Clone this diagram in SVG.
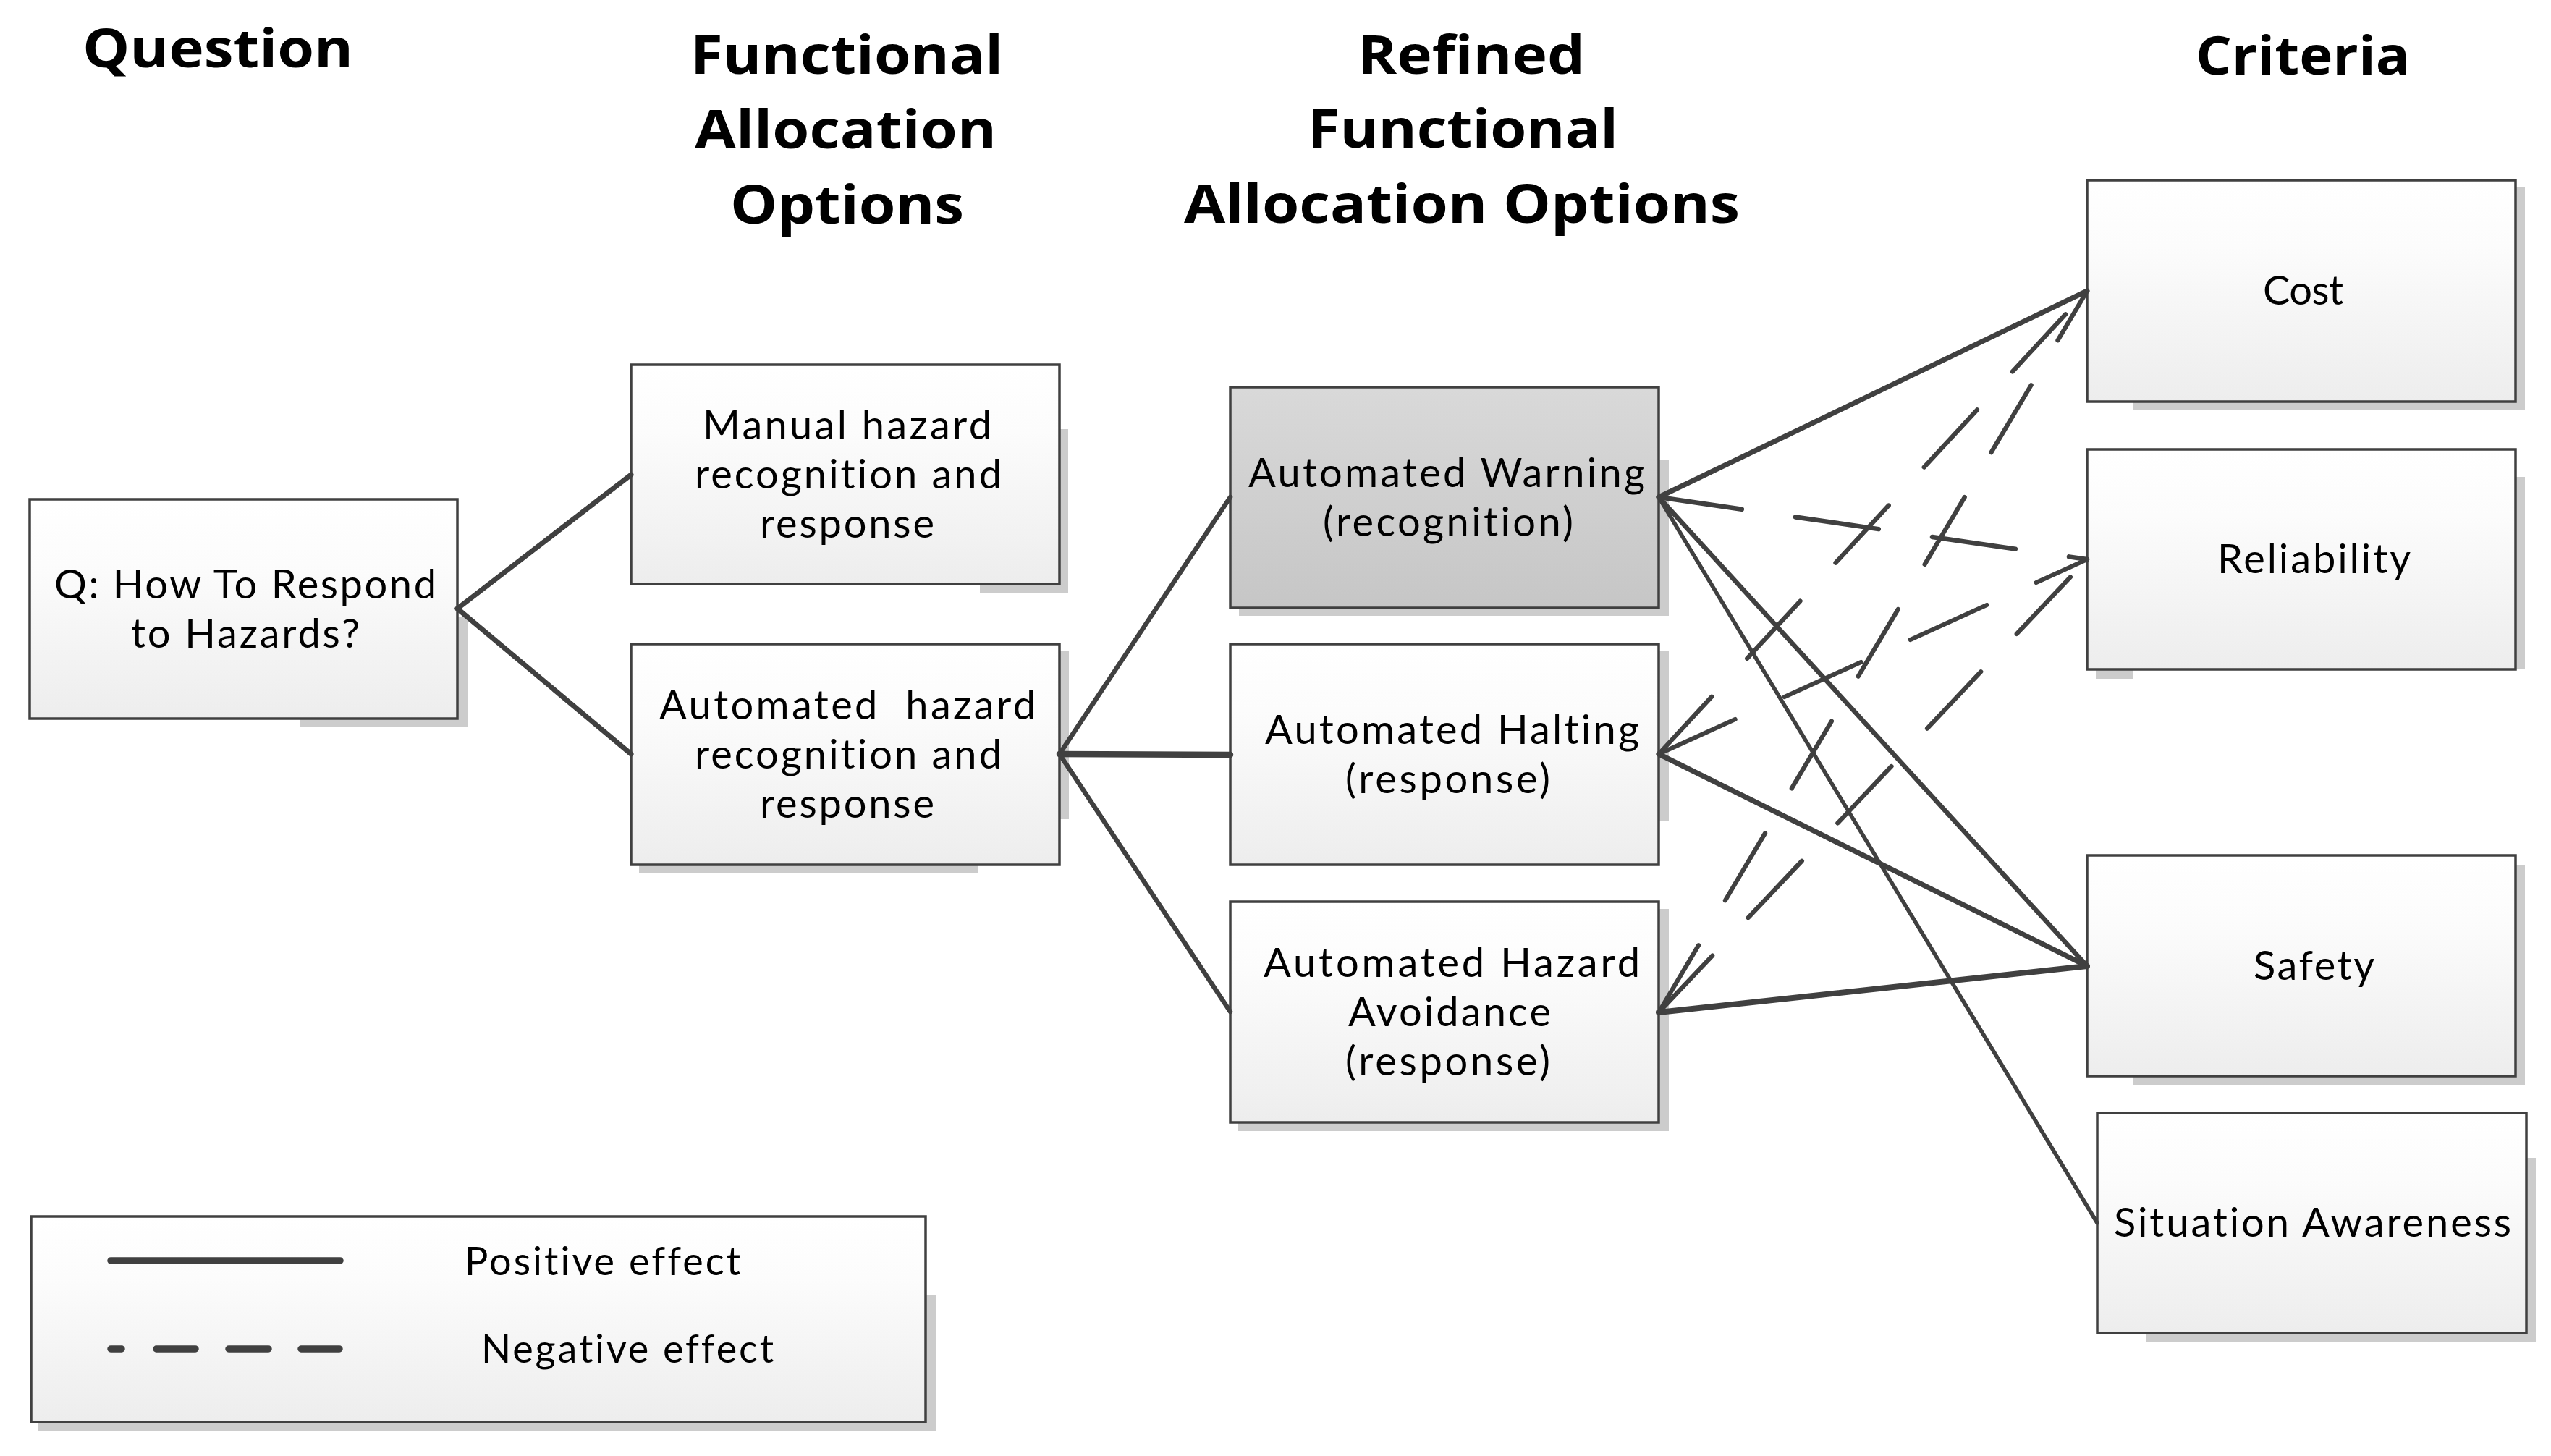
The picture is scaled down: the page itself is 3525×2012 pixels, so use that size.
<svg xmlns="http://www.w3.org/2000/svg" width="3525" height="2012" viewBox="0 0 3525 2012">
<defs>
<linearGradient id="gBox" x1="0" y1="0" x2="0" y2="1">
<stop offset="0" stop-color="#ffffff"/>
<stop offset="0.3" stop-color="#fcfcfc"/>
<stop offset="1" stop-color="#ededed"/>
</linearGradient>
<linearGradient id="gDark" x1="0" y1="0" x2="0" y2="1">
<stop offset="0" stop-color="#d9d9d9"/>
<stop offset="1" stop-color="#c6c6c6"/>
</linearGradient>
</defs>
<style>
.box{stroke:#404040;stroke-width:3.5;fill:url(#gBox)}
.dark{fill:url(#gDark)}
.sh{fill:#cccccc}
.t{font-family:Lato,"Liberation Sans",sans-serif;font-size:56px;fill:#000;font-variant-ligatures:none}
.lg{font-size:54px}
.h{font-family:"Open Sans","Liberation Sans",sans-serif;font-size:74px;font-weight:700;fill:#000;font-variant-ligatures:none}
.c{stroke:#404040;fill:none;stroke-linecap:round}
.d1{stroke-dasharray:116 75}
.d2{stroke-dasharray:108 72}
</style>
<rect width="3525" height="2012" fill="#ffffff"/>

<g id="headings">
<text class="h" x="114" y="93" textLength="374" lengthAdjust="spacingAndGlyphs">Question</text>
<text class="h" x="954" y="102" textLength="432" lengthAdjust="spacingAndGlyphs">Functional</text>
<text class="h" x="960" y="205" textLength="417" lengthAdjust="spacingAndGlyphs">Allocation</text>
<text class="h" x="1009" y="309" textLength="323" lengthAdjust="spacingAndGlyphs">Options</text>
<text class="h" x="1876" y="102" textLength="314" lengthAdjust="spacingAndGlyphs">Refined</text>
<text class="h" x="1807" y="204" textLength="429" lengthAdjust="spacingAndGlyphs">Functional</text>
<text class="h" x="1636" y="308" textLength="768" lengthAdjust="spacingAndGlyphs">Allocation Options</text>
<text class="h" x="3034" y="103" textLength="296" lengthAdjust="spacingAndGlyphs">Criteria</text>
</g>

<g id="node-question">
<rect class="sh" x="414" y="852" width="232" height="152"/>
<rect class="box" x="41" y="690" width="591" height="303"/>
<text class="t" x="75" y="826.5" textLength="528" lengthAdjust="spacing">Q: How To Respond</text>
<text class="t" x="181" y="894.5" textLength="316" lengthAdjust="spacing">to Hazards?</text>
</g>

<g id="node-manual">
<rect class="sh" x="1354" y="593" width="122" height="227"/>
<rect class="box" x="872" y="504" width="592" height="303"/>
<text class="t" x="971" y="606.5" textLength="399" lengthAdjust="spacing">Manual hazard</text>
<text class="t" x="960" y="674.5" textLength="424" lengthAdjust="spacing">recognition and</text>
<text class="t" x="1050" y="742.5" textLength="241" lengthAdjust="spacing">response</text>
</g>

<g id="node-automated">
<rect class="sh" x="1464" y="900" width="13" height="232"/>
<rect class="sh" x="883" y="1195" width="468" height="12"/>
<rect class="box" x="872" y="890" width="592" height="305"/>
<text class="t" x="911" y="993.5" textLength="520" lengthAdjust="spacing" xml:space="preserve">Automated  hazard</text>
<text class="t" x="960" y="1061.5" textLength="424" lengthAdjust="spacing">recognition and</text>
<text class="t" x="1050" y="1129.5" textLength="241" lengthAdjust="spacing">response</text>
</g>

<g id="node-warning">
<rect class="sh" x="1712" y="636" width="594" height="215"/>
<rect class="box dark" x="1700" y="535" width="592" height="305"/>
<text class="t" x="1725" y="672.5" textLength="548" lengthAdjust="spacing">Automated Warning</text>
<text class="t" x="1828" y="740.5" textLength="346" lengthAdjust="spacing">(recognition)</text>
</g>

<g id="node-halting">
<rect class="sh" x="2292" y="900" width="14" height="235"/>
<rect class="box" x="1700" y="890" width="592" height="305"/>
<text class="t" x="1748" y="1027.5" textLength="517" lengthAdjust="spacing">Automated Halting</text>
<text class="t" x="1859" y="1095.5" textLength="283" lengthAdjust="spacing">(response)</text>
</g>

<g id="node-avoidance">
<rect class="sh" x="1711" y="1256" width="595" height="307"/>
<rect class="box" x="1700" y="1246" width="592" height="305"/>
<text class="t" x="1746" y="1349.5" textLength="520" lengthAdjust="spacing">Automated Hazard</text>
<text class="t" x="1863" y="1417.5" textLength="280" lengthAdjust="spacing">Avoidance</text>
<text class="t" x="1859" y="1485.5" textLength="283" lengthAdjust="spacing">(response)</text>
</g>

<g id="node-cost">
<rect class="sh" x="2947" y="259" width="542" height="307"/>
<rect class="box" x="2884" y="249" width="592" height="306"/>
<text class="t" x="3127" y="421" textLength="111" lengthAdjust="spacing">Cost</text>
</g>

<g id="node-reliability">
<rect class="sh" x="3476" y="659" width="13" height="266"/>
<rect class="sh" x="2896" y="925" width="51" height="13"/>
<rect class="box" x="2884" y="621" width="592" height="304"/>
<text class="t" x="3064" y="792" textLength="267" lengthAdjust="spacing">Reliability</text>
</g>

<g id="node-safety">
<rect class="sh" x="2948" y="1195" width="541" height="304"/>
<rect class="box" x="2884" y="1182" width="592" height="305"/>
<text class="t" x="3114" y="1353.5" textLength="167" lengthAdjust="spacing">Safety</text>
</g>

<g id="node-situation-awareness">
<rect class="sh" x="2965" y="1600" width="539" height="254"/>
<rect class="box" x="2898" y="1538" width="593" height="304"/>
<text class="t" x="2921" y="1709" textLength="549" lengthAdjust="spacing">Situation Awareness</text>
</g>

<g id="legend">
<rect class="sh" x="53" y="1789" width="1240" height="188"/>
<rect class="box" x="43" y="1681" width="1236" height="284"/>
<line class="c" x1="153" y1="1742" x2="470" y2="1742" stroke-width="9.5"/>
<path class="c" d="M153 1864H470" stroke-width="9.5" stroke-dasharray="15 48 54 46 55 45 53 200"/>
<text class="t lg" x="642" y="1762" textLength="381" lengthAdjust="spacing">Positive effect</text>
<text class="t lg" x="665" y="1883" textLength="404" lengthAdjust="spacing">Negative effect</text>
</g>

<g id="connectors">
<line class="c" x1="632" y1="841" x2="872" y2="656" stroke-width="7"/>
<line class="c" x1="632" y1="841" x2="872" y2="1042" stroke-width="7"/>
<line class="c" x1="1464" y1="1042" x2="1700" y2="687" stroke-width="6.5"/>
<line class="c" x1="1464" y1="1042" x2="1700" y2="1043" stroke-width="8.5"/>
<line class="c" x1="1464" y1="1042" x2="1700" y2="1398" stroke-width="6.5"/>
<line class="c" x1="2292" y1="687" x2="2884" y2="402" stroke-width="7"/>
<line class="c" x1="2292" y1="687" x2="2884" y2="1335" stroke-width="6.5"/>
<line class="c" x1="2292" y1="687" x2="2898" y2="1690" stroke-width="5.5"/>
<line class="c" x1="2292" y1="1042" x2="2884" y2="1335" stroke-width="7"/>
<line class="c" x1="2292" y1="1399" x2="2884" y2="1335" stroke-width="8"/>
<line class="c d1" x1="2292" y1="687" x2="2884" y2="773" stroke-width="6.5"/>
<line class="c d2" x1="2292" y1="1042" x2="2884" y2="402" stroke-width="6.2"/>
<line class="c d1" x1="2292" y1="1042" x2="2884" y2="773" stroke-width="6.2"/>
<line class="c d2" x1="2292" y1="1399" x2="2884" y2="402" stroke-width="6.2"/>
<line class="c d2" x1="2292" y1="1399" x2="2884" y2="773" stroke-width="6.2"/>
</g>
</svg>
